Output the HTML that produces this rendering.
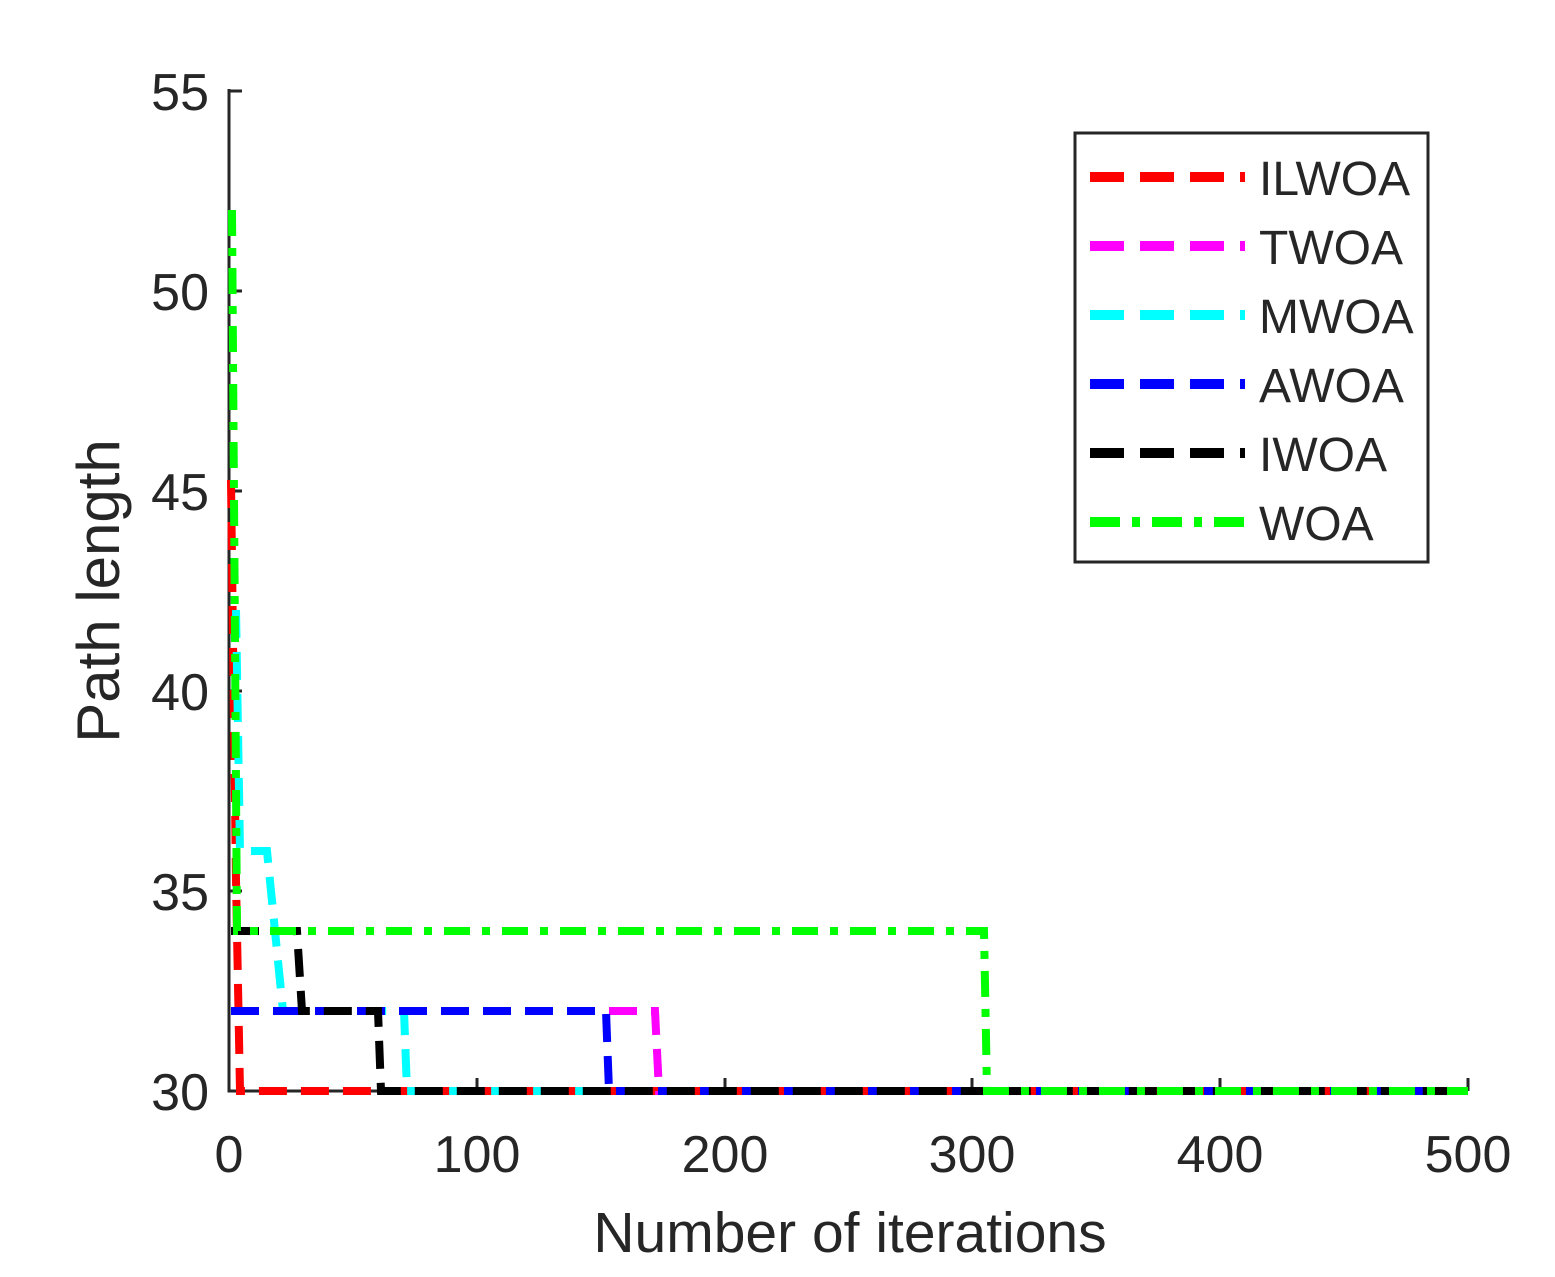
<!DOCTYPE html>
<html><head><style>body{margin:0;background:#fff}svg{display:block}text{font-family:"Liberation Sans",Arial,sans-serif;fill:#262626}</style></head><body>
<svg width="1555" height="1277" viewBox="0 0 1555 1277">
<g stroke="#262626" stroke-width="3" fill="none">
<path d="M229,89V1091H1468"/>
<path d="M229,91h13M229,291h13M229,491h13M229,691h13M229,891h13M229,1091h13"/>
<path d="M477,1091v-13M725,1091v-13M972,1091v-13M1220,1091v-13M1468,1091v-13"/>
</g>
<g font-size="52" text-anchor="end">
<text x="209" y="110">55</text><text x="209" y="310">50</text><text x="209" y="510">45</text><text x="209" y="710">40</text><text x="209" y="910">35</text><text x="209" y="1110">30</text>
</g>
<g font-size="52" text-anchor="middle">
<text x="229" y="1172">0</text><text x="477" y="1172">100</text><text x="725" y="1172">200</text><text x="972" y="1172">300</text><text x="1220" y="1172">400</text><text x="1468" y="1172">500</text>
</g>
<text x="850" y="1252" font-size="57" text-anchor="middle">Number of iterations</text>
<text transform="translate(119,591) rotate(-90)" font-size="60" text-anchor="middle">Path length</text>
<g fill="none" stroke-width="8">
<path stroke="#f00" stroke-dasharray="28,14" d="M231,480L236,880L240,1091H1468"/>
<path stroke="#f0f" stroke-dasharray="28,14" d="M231,1011H655L659,1091H1468"/>
<path stroke="#0ff" stroke-dasharray="28,14" d="M236,610L240,851H267L283,1011H404L407,1091H1468"/>
<path stroke="#00f" stroke-dasharray="28,14" d="M231,1011H606L609,1091H1468"/>
<path stroke="#000" stroke-dasharray="28,14" d="M231,931H297L302,1011H378L381,1091H1468"/>
<path stroke="#0f0" stroke-dasharray="26,12,8,12" d="M232,210L237,931H984L987,1091H1468"/>
</g>
<rect x="1075" y="133" width="353" height="429" fill="#fff" stroke="#262626" stroke-width="3"/>
<g stroke-width="10" fill="none">
<path stroke="#f00" stroke-dasharray="34,16" d="M1090,177H1245"/>
<path stroke="#f0f" stroke-dasharray="34,16" d="M1090,246H1245"/>
<path stroke="#0ff" stroke-dasharray="34,16" d="M1090,315H1245"/>
<path stroke="#00f" stroke-dasharray="34,16" d="M1090,384H1245"/>
<path stroke="#000" stroke-dasharray="34,16" d="M1090,453H1245"/>
<path stroke="#0f0" stroke-dasharray="30,12,8,12" d="M1090,522H1245"/>
</g>
<g font-size="48">
<text x="1259" y="195">ILWOA</text><text x="1259" y="264">TWOA</text><text x="1259" y="333">MWOA</text><text x="1259" y="402">AWOA</text><text x="1259" y="471">IWOA</text><text x="1259" y="540">WOA</text>
</g>
</svg>
</body></html>
